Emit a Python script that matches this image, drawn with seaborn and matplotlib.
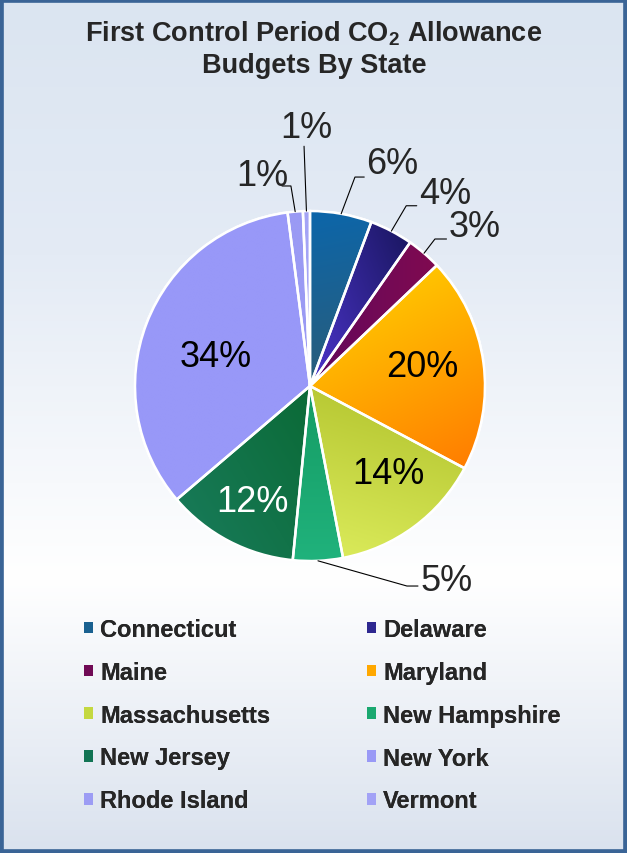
import numpy as np
import matplotlib
matplotlib.use('Agg')
import matplotlib.pyplot as plt
import seaborn as sns
from matplotlib.colors import LinearSegmentedColormap
from matplotlib.patches import Rectangle, Wedge

sns.set_style('white')
plt.rcParams['font.family'] = ['Liberation Sans', 'DejaVu Sans']
plt.rcParams['mathtext.fontset'] = 'custom'
plt.rcParams['mathtext.rm'] = 'Liberation Sans:bold'
plt.rcParams['mathtext.bf'] = 'Liberation Sans:bold'
plt.rcParams['mathtext.default'] = 'bf'

# data (share of first control period budget, %)
states = ['Connecticut', 'Delaware', 'Maine', 'Maryland', 'Massachusetts',
          'New Hampshire', 'New Jersey', 'New York', 'Rhode Island', 'Vermont']
shares = [5.7, 4.0, 3.2, 19.9, 14.2, 4.6, 12.2, 34.2, 1.4, 0.65]
labels = ['6%', '4%', '3%', '20%', '14%', '5%', '12%', '34%', '1%', '1%']

# gradient colours per slice (start, end, direction)
grad_start = ['#0c66aa', '#4c34cc', '#62085c', '#ffd800', '#afc02a',
              '#159c64', '#0b6a36', '#9898f8', '#9a9af4', '#a4a4f6']
grad_end = ['#2c5c76', '#19165e', '#800a50', '#ff7a00', '#dcec5c',
            '#20b27c', '#197c5c', '#9898f8', '#9a9af4', '#a4a4f6']
grad_dir = [(0.2, -1), (1, 0.4), (1, 0), (0.5, -1), (-0.3, -1),
            (0, -1), (-1, -0.6), (0, -1), (0, -1), (0, -1)]
legend_col = ['#1a6190', '#2e2890', '#700a55', '#ffa800', '#c4d840',
              '#1aa870', '#127454', '#9999f6', '#9c9cf4', '#a2a2f6']

# label placement (pie data coords): inside labels, outside labels + leader elbows
inside = {3: (0.64, 0.11), 4: (0.45, -0.50), 6: (-0.33, -0.66), 7: (-0.54, 0.17)}
outside = {0: ((0.47, 1.27), (0.257, 1.194), (0.31, 1.194)),
           1: ((0.77, 1.10), (0.55, 1.03), (0.61, 1.03)),
           2: ((0.94, 0.91), (0.714, 0.84), (0.78, 0.84)),
           5: ((0.78, -1.11), (0.554, -1.143), (0.617, -1.143)),
           8: ((-0.27, 1.20), (-0.109, 1.143), (-0.16, 1.143)),
           9: ((-0.02, 1.48), (-0.034, 1.37), (-0.034, 1.37))}

W, H = 627, 854
fig = plt.figure(figsize=(W / 100, H / 100), dpi=100)

# background gradient
bg = fig.add_axes([0, 0, 1, 1], zorder=-10)
bg_cmap = LinearSegmentedColormap.from_list(
    'bg', [(0, '#dbe5f1'), (0.3, '#e4ebf5'), (0.68, '#ffffff'), (1, '#dae2ee')])
bg.imshow(np.linspace(0, 1, 300)[:, None], cmap=bg_cmap, aspect='auto',
          extent=[0, 1, 0, 1])
bg.axis('off')

cx, cy, r = 310, 387, 175
ax = fig.add_axes([(cx - r) / W, (H - cy - r) / H, 2 * r / W, 2 * r / H])
wedges, _ = ax.pie(shares, startangle=90, counterclock=False,
                   colors=grad_start, radius=1,
                   wedgeprops=dict(edgecolor='white', linewidth=1.8))

for i, w in enumerate(wedges):
    v = w.get_path().vertices
    x0, y0 = v.min(0)
    x1, y1 = v.max(0)
    X, Y = np.meshgrid(np.linspace(x0, x1, 120), np.linspace(y0, y1, 120))
    dx, dy = grad_dir[i]
    t = X * dx + Y * dy
    t = (t - t.min()) / (t.max() - t.min() + 1e-9)
    cm = LinearSegmentedColormap.from_list('g%d' % i, [grad_start[i], grad_end[i]])
    im = ax.imshow(t, cmap=cm, extent=(x0, x1, y0, y1), origin='lower',
                   zorder=1.5, interpolation='bilinear')
    im.set_clip_path(w)
    ax.add_patch(Wedge(w.center, w.r, w.theta1, w.theta2, fc='none',
                       ec='white', lw=1.8, zorder=2))

for i, (x, y) in inside.items():
    ax.text(x, y, labels[i], ha='center', va='center', fontsize=26,
            color='white' if i == 6 else 'black', zorder=3)

for i, (tp, elbow, end) in outside.items():
    w = wedges[i]
    mid = np.deg2rad((w.theta1 + w.theta2) / 2)
    ax.plot([np.cos(mid), elbow[0], end[0]], [np.sin(mid), elbow[1], end[1]],
            color='black', lw=0.8, zorder=3, clip_on=False)
    ax.text(tp[0], tp[1], labels[i], ha='center', va='center', fontsize=26,
            zorder=3, clip_on=False)

ax.set_xlim(-1, 1)
ax.set_ylim(-1, 1)
ax.set_aspect('equal')
ax.axis('off')

# title
fig.text(314 / W, 1 - 42 / H, 'First Control Period CO$_2$ Allowance',
         ha='center', va='baseline', fontsize=19.5, fontweight='bold',
         family='Liberation Sans')
fig.text(314 / W, 1 - 73 / H, 'Budgets By State',
         ha='center', va='baseline', fontsize=19.5, fontweight='bold',
         family='Liberation Sans')

# legend, two columns filled row by row
handles = [Rectangle((0, 0), 1, 1, fc=c, ec='none') for c in legend_col]
for col, x in enumerate([84, 367]):
    idx = list(range(col, len(states), 2))
    leg = fig.legend([handles[j] for j in idx], [states[j] for j in idx],
                     loc='upper left', bbox_to_anchor=(x / W, 1 - 619 / H),
                     frameon=False, ncol=1, borderpad=0, borderaxespad=0,
                     handlelength=0.38, handleheight=0.38, handletextpad=0.3,
                     labelspacing=0.84,
                     prop=dict(family='Liberation Sans', weight='bold', size=17))
    fig.add_artist(leg)

# frame
fig.add_artist(Rectangle((0, 0), 1, 1, transform=fig.transFigure, fill=False,
                         ec='#3a6496', lw=5.5, zorder=20))

plt.savefig('out.png', dpi=100)
